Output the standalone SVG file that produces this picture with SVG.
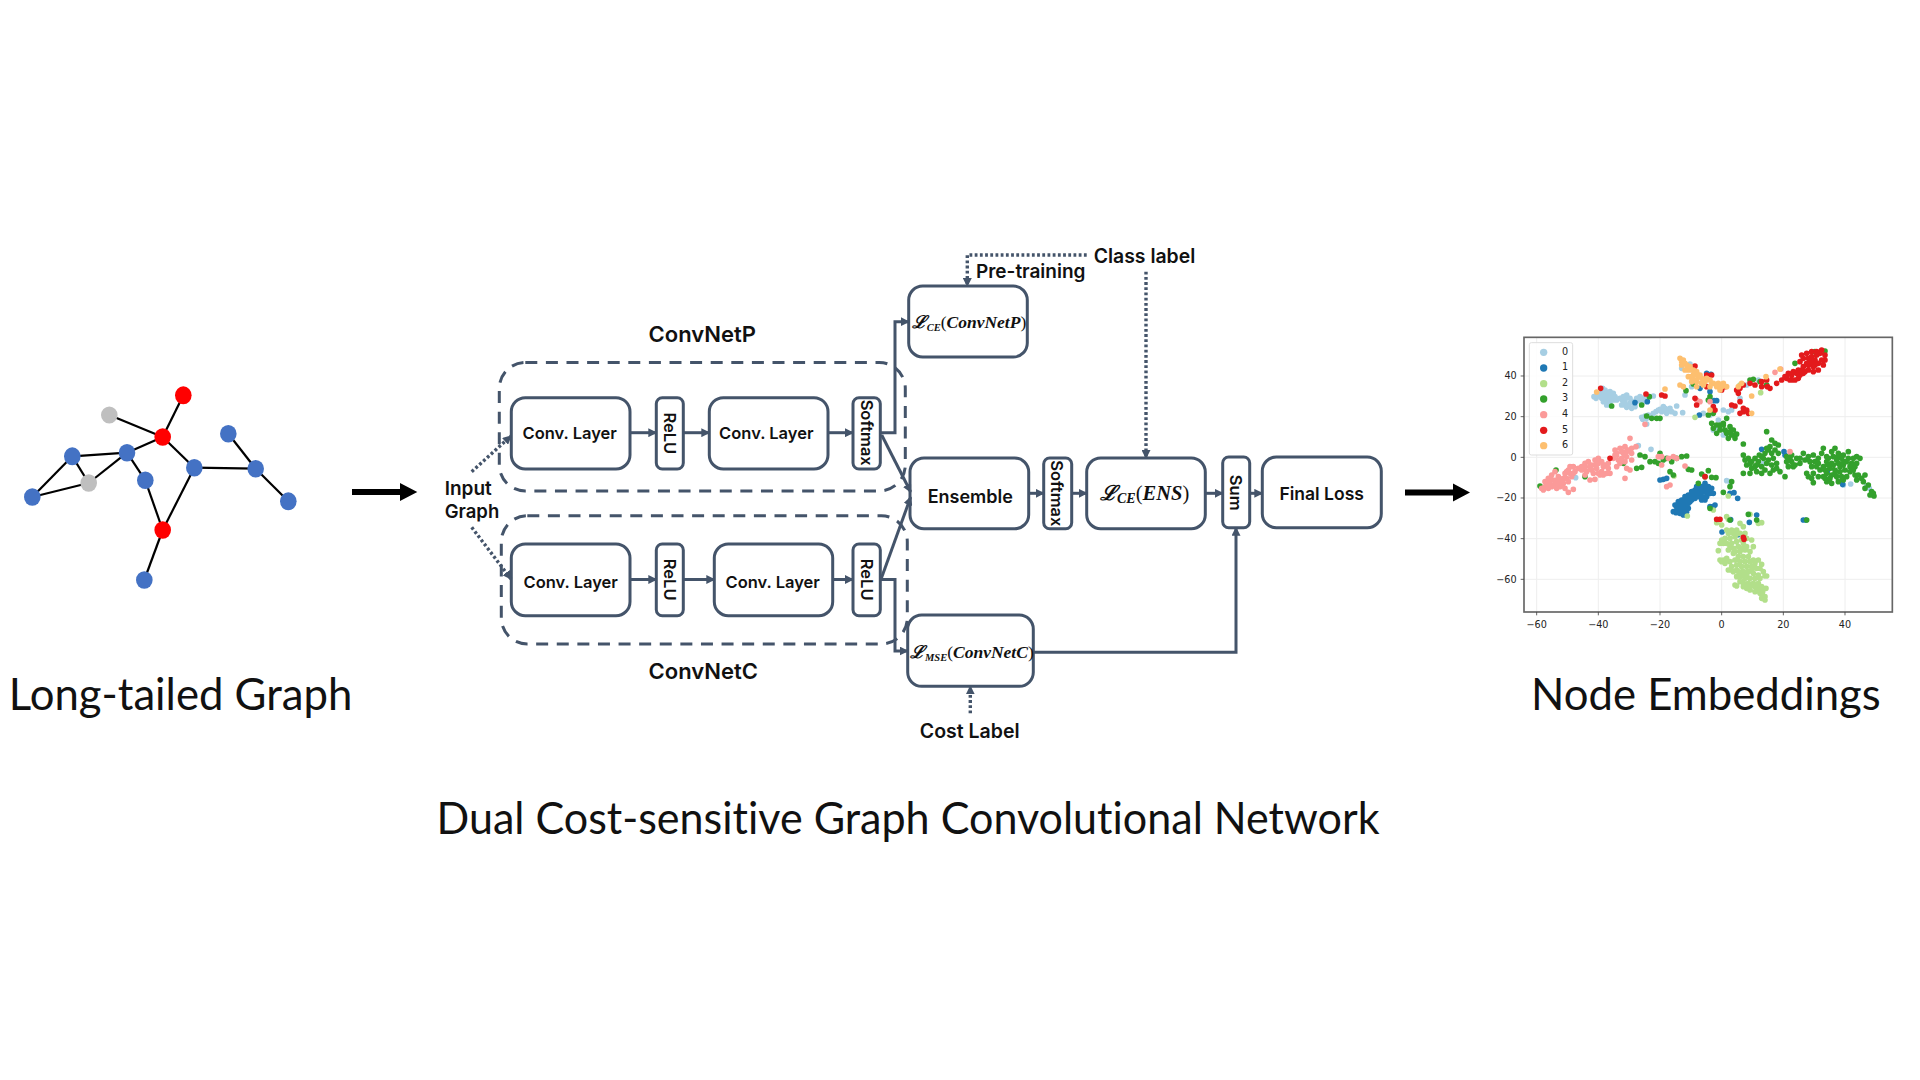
<svg xmlns="http://www.w3.org/2000/svg" width="1920" height="1080" viewBox="0 0 1920 1080">
<defs>
<marker id="a" markerUnits="userSpaceOnUse" markerWidth="9" markerHeight="9" refX="8" refY="4.5" orient="auto"><path d="M0 0L9 4.5L0 9z" fill="#44546a"/></marker>
</defs>
<style>
.big{font:43.700px Lato,"Open Sans",sans-serif;fill:#111;font-variant-ligatures:none}
.lb{font:600 19px Inter,"Liberation Sans",sans-serif;fill:#111;text-anchor:middle}
.sm{font:600 16.500px Inter,"Liberation Sans",sans-serif;fill:#111;text-anchor:middle}
.math{font:italic bold 17.500px "Liberation Serif","DejaVu Serif",serif;fill:#111}
.up{font-style:normal;font-weight:400}
.box rect{fill:#fff;stroke:#44546a;stroke-width:3}
.dash{fill:none;stroke:#44546a;stroke-width:3;stroke-dasharray:12 8.600}
.con path{fill:none;stroke:#44546a;stroke-width:3;marker-end:url(#a)}
.con .dot{stroke-width:3.400;stroke-dasharray:2.800 2.400}
.e line{stroke:#000;stroke-width:2.200}
.b{fill:#4472c4}.r{fill:#f00}.g{fill:#bfbfbf}
.s{fill:none;stroke-width:17;stroke-linecap:round}
.t{font:29px "DejaVu Sans",sans-serif;fill:#222}
</style>
<g id="input-graph">
<g class="e">
<line x1="109.300" y1="415" x2="162.700" y2="437"/><line x1="183.300" y1="395.300" x2="162.700" y2="437"/><line x1="162.700" y1="437" x2="127" y2="452.700"/><line x1="162.700" y1="437" x2="194.300" y2="467.700"/><line x1="72.300" y1="456.300" x2="127" y2="452.700"/><line x1="72.300" y1="456.300" x2="88.700" y2="483"/><line x1="127" y1="452.700" x2="88.700" y2="483"/><line x1="127" y1="452.700" x2="145.300" y2="480.300"/><line x1="145.300" y1="480.300" x2="162.700" y2="530"/><line x1="194.300" y1="467.700" x2="162.700" y2="530"/><line x1="194.300" y1="467.700" x2="255.700" y2="468.700"/><line x1="228.300" y1="433.700" x2="255.700" y2="468.700"/><line x1="255.700" y1="468.700" x2="288.300" y2="501.300"/><line x1="72.300" y1="456.300" x2="32.300" y2="497"/><line x1="32.300" y1="497" x2="88.700" y2="483"/><line x1="162.700" y1="530" x2="144.300" y2="580"/>
</g>
<ellipse class="r" cx="183.300" cy="395.300" rx="8.300" ry="9"/><ellipse class="g" cx="109.300" cy="415" rx="8.300" ry="8.600"/><ellipse class="r" cx="162.700" cy="437" rx="8.300" ry="8.800"/><ellipse class="b" cx="228.300" cy="433.700" rx="8.300" ry="8.800"/><ellipse class="b" cx="72.300" cy="456.300" rx="8.300" ry="9"/><ellipse class="b" cx="127" cy="452.700" rx="8.300" ry="8.800"/><ellipse class="b" cx="194.300" cy="467.700" rx="8.300" ry="8.800"/><ellipse class="b" cx="255.700" cy="468.700" rx="8.300" ry="8.800"/><ellipse class="g" cx="88.700" cy="483" rx="8.300" ry="8.800"/><ellipse class="b" cx="145.300" cy="480.300" rx="8.300" ry="8.800"/><ellipse class="b" cx="32.300" cy="497" rx="8.300" ry="8.800"/><ellipse class="b" cx="288.300" cy="501.300" rx="8.300" ry="9"/><ellipse class="r" cx="162.700" cy="530" rx="8.300" ry="8.800"/><ellipse class="b" cx="144.300" cy="580" rx="8.300" ry="8.800"/>
</g>
<text class="big" x="8.800" y="710">Long-tailed Graph</text>
<path d="M352 489H400V483L417.300 492L400 501V495H352z" fill="#000"/>
<path d="M1405 489.500H1453V483.500L1470 492.500L1453 501.500V495.500H1405z" fill="#000"/>

<g id="convnetp-frame"><rect class="dash" x="499.300" y="362.500" width="406" height="128.500" rx="26"/></g>
<g id="convnetc-frame"><rect class="dash" x="501.300" y="515.700" width="406" height="128.300" rx="26"/></g>
<g class="box">
<g id="p1"><rect x="511.300" y="397.700" width="118.700" height="71.300" rx="14"/></g>
<g id="p2"><rect x="656.300" y="397.700" width="27" height="71.300" rx="6"/></g>
<g id="p3"><rect x="709.300" y="397.700" width="118.700" height="71.300" rx="14"/></g>
<g id="p4"><rect x="853" y="397.700" width="27.300" height="71.300" rx="6"/></g>
<g id="c1"><rect x="511.300" y="544" width="118.700" height="71.700" rx="14"/></g>
<g id="c2"><rect x="656.300" y="544" width="27" height="71.700" rx="6"/></g>
<g id="c3"><rect x="714.300" y="544" width="118.400" height="71.700" rx="14"/></g>
<g id="c4"><rect x="853" y="544" width="27.300" height="71.700" rx="6"/></g>
<g id="lp"><rect x="908.700" y="286" width="118.600" height="71" rx="14"/></g>
<g id="ens"><rect x="910" y="458" width="118.700" height="70.700" rx="14"/></g>
<g id="sf"><rect x="1043.700" y="458" width="28" height="70.700" rx="6"/></g>
<g id="lens"><rect x="1086.700" y="458" width="118.600" height="70.700" rx="14"/></g>
<g id="sum"><rect x="1222.700" y="457" width="27" height="70.700" rx="6"/></g>
<g id="fl"><rect x="1262.300" y="457" width="119" height="70.700" rx="14"/></g>
<g id="lm"><rect x="907.700" y="615" width="125.600" height="71.300" rx="14"/></g>
</g>
<g id="connectors" class="con">
<path d="M630 432.700H656.300"/><path d="M683.300 432.700H709.300"/><path d="M828 432.700H853"/>
<path d="M630 579.500H656.300"/><path d="M683.300 579.500H714.300"/><path d="M832.700 579.500H853"/>
<path d="M880.300 432.700H895V321.700H908.700"/><path d="M881.700 435L910.700 492"/><path d="M881 579.300L910.700 497"/><path d="M880.300 579.500H895V651H907.700"/>
<path d="M1028.700 493.300H1043.700"/><path d="M1071.700 493.300H1086.700"/><path d="M1205.300 493.300H1222.700"/><path d="M1249.700 493.300H1262.300"/>
<path d="M1033.300 652.300H1236V527.700"/>
<path class="dot" d="M1086.700 255H967.300V286"/><path class="dot" d="M1146 271.700V458"/><path class="dot" d="M970.300 713.300V686.300"/>
<path class="dot" d="M471.700 471.700L511 436"/><path class="dot" d="M471.700 527.300L511 579"/>
</g>
<g>
<text class="sm" x="569.700" y="439.300">Conv. Layer</text><text class="sm" x="766.300" y="439.300">Conv. Layer</text>
<text class="sm" x="570.700" y="588">Conv. Layer</text><text class="sm" x="772.700" y="588">Conv. Layer</text>
<text class="sm" transform="translate(663.500,433.300) rotate(90)">ReLU</text>
<text class="sm" transform="translate(860.500,432.700) rotate(90)">Softmax</text>
<text class="sm" transform="translate(663.500,579.700) rotate(90)">ReLU</text>
<text class="sm" transform="translate(860.500,579.700) rotate(90)">ReLU</text>
<text class="sm" transform="translate(1051,493.300) rotate(90)">Softmax</text>
<text class="sm" transform="translate(1229.500,492.700) rotate(90)">Sum</text>
<text class="lb" x="970.300" y="503.300" style="font-size:18px">Ensemble</text>
<text class="lb" x="1321.700" y="500" style="font-size:17.500px">Final Loss</text>
<text class="lb" x="702.300" y="341.700" style="font-size:22px">ConvNetP</text>
<text class="lb" x="703.300" y="679" style="font-size:22px">ConvNetC</text>
<text class="lb" x="1144.500" y="262.700" style="font-size:19.400px">Class label</text>
<text class="lb" x="1030.700" y="278.300">Pre-training</text>
<text class="lb" x="969.700" y="738.300" style="font-size:19.500px">Cost Label</text>
<text class="lb" x="444.700" y="495" style="text-anchor:start">Input</text>
<text class="lb" x="444.700" y="518.300" style="text-anchor:start;font-size:18.500px">Graph</text>
<text class="math" x="911.700" y="327.700">ℒ<tspan dy="3" style="font-size:10.500px">CE</tspan><tspan dy="-3" class="up">(</tspan>ConvNetP<tspan class="up">)</tspan></text>
<text class="math" x="910" y="657.700">ℒ<tspan dy="3" style="font-size:10.500px">MSE</tspan><tspan dy="-3" class="up">(</tspan>ConvNetC<tspan class="up">)</tspan></text>
<text class="math" x="1100" y="500" style="font-size:20.500px">ℒ<tspan dy="3" style="font-size:14px">CE</tspan><tspan dy="-3" class="up">(</tspan>ENS<tspan class="up">)</tspan></text>
</g>
<text class="big" x="1531" y="710">Node Embeddings</text>
<text class="big" x="908" y="834" text-anchor="middle" textLength="943" lengthAdjust="spacingAndGlyphs">Dual Cost-sensitive Graph Convolutional Network</text>

<g id="scatter" transform="translate(1510,330) scale(.33333)">
<rect x="42" y="22" width="1105" height="824" fill="#fff"/>
<path d="M80 22V846M265 22V846M450 22V846M635 22V846M820 22V846M1005 22V846M42 138H1147M42 260H1147M42 382H1147M42 504H1147M42 626H1147M42 748H1147" stroke="#eee" stroke-width="3" fill="none"/>
<path class="s" stroke="#a6cee3" d="M252 200h0M262 195h0M270 185h0M278 175h0M285 180h0M292 190h0M300 185h0M310 190h0M315 200h0M305 205h0M295 205h0M285 200h0M275 205h0M268 198h0M280 215h0M290 225h0M300 215h0M310 210h0M330 205h0M340 200h0M350 195h0M360 205h0M345 215h0M335 225h0M355 225h0M370 215h0M380 205h0M390 200h0M400 205h0M410 210h0M420 200h0M430 198h0M365 235h0M350 232h0M375 230h0M395 262h0M405 258h0M415 255h0M430 250h0M445 240h0M455 245h0M465 235h0M475 240h0M485 245h0M495 250h0M470 250h0M460 230h0M518 248h0M500 228h0M410 282h0M398 268h0M515 115h0M540 102h0M525 195h0M545 170h0M580 250h0M600 255h0M625 270h0M640 240h0M655 245h0M665 240h0M610 300h0M625 295h0M640 315h0M385 347h0M423 358h0M197 443h0M650 452h0M660 455h0M1000 465h0M1022 462h0M1070 468h0M1078 475h0M745 150h0M710 165h0M695 165h0M760 400h0M690 205h0M258 205h0M272 190h0M288 188h0M298 195h0M308 198h0M282 208h0M292 215h0M320 210h0M338 212h0M348 205h0M362 218h0M372 222h0M388 212h0M402 215h0M345 225h0M300 225h0M410 265h0M422 258h0M438 245h0M450 238h0M468 245h0M480 235h0"/>
<path class="s" stroke="#1f78b4" d="M490 545h0M500 540h0M510 550h0M520 555h0M530 545h0M525 530h0M510 530h0M495 525h0M505 515h0M515 510h0M525 500h0M535 495h0M545 485h0M555 490h0M565 480h0M575 470h0M585 460h0M595 470h0M605 475h0M600 490h0M590 500h0M575 510h0M565 500h0M555 505h0M545 510h0M535 520h0M530 510h0M560 470h0M570 490h0M580 485h0M590 480h0M540 505h0M550 495h0M520 520h0M610 530h0M600 530h0M615 525h0M450 450h0M460 448h0M470 445h0M660 490h0M683 505h0M672 488h0M755 358h0M822 365h0M825 375h0M952 424h0M998 463h0M880 570h0M887 570h0M636 606h0M684 614h0M718 577h0M740 555h0M662 569h0M375 218h0M412 215h0M570 175h0M612 212h0M620 212h0M568 255h0M600 185h0M590 130h0M603 133h0M500 530h0M512 540h0M522 545h0M535 535h0M515 520h0M505 530h0M540 515h0M550 505h0M560 495h0M570 480h0M580 475h0M590 490h0M600 480h0M610 490h0M498 548h0M528 555h0M540 495h0M555 480h0M575 500h0M585 510h0"/>
<path class="s" stroke="#b2df8a" d="M620 578h0M635 585h0M650 600h0M665 600h0M680 600h0M690 580h0M700 590h0M690 610h0M675 620h0M660 625h0M645 625h0M635 630h0M650 640h0M665 640h0M680 635h0M695 630h0M710 625h0M725 630h0M700 640h0M685 650h0M670 655h0M655 660h0M690 665h0M705 660h0M720 665h0M715 680h0M700 680h0M685 680h0M670 670h0M650 685h0M635 695h0M645 700h0M660 695h0M675 690h0M690 695h0M705 695h0M720 695h0M730 690h0M755 703h0M740 715h0M725 710h0M710 710h0M695 710h0M680 705h0M665 710h0M655 720h0M670 725h0M685 725h0M700 725h0M715 725h0M730 730h0M745 735h0M765 738h0M750 745h0M735 745h0M720 745h0M705 745h0M690 740h0M680 740h0M700 755h0M715 760h0M730 760h0M745 760h0M755 770h0M768 775h0M745 780h0M735 770h0M720 770h0M700 770h0M680 768h0M750 790h0M760 800h0M765 810h0M755 795h0M630 640h0M625 662h0M650 560h0M655 568h0M745 580h0M755 578h0M720 553h0M610 540h0M655 498h0M532 558h0M492 438h0M752 188h0M555 262h0M690 165h0M655 610h0M670 610h0M680 612h0M705 610h0M640 640h0M660 650h0M675 665h0M695 655h0M710 650h0M730 650h0M745 690h0M735 700h0M750 715h0M760 725h0M770 738h0M725 720h0M710 735h0M695 735h0M680 720h0M660 720h0M640 690h0M630 690h0M690 755h0M705 765h0M720 780h0M735 785h0M745 770h0M758 785h0M765 800h0M755 805h0M675 765h0M710 775h0"/>
<path class="s" stroke="#33a02c" d="M700 375h0M715 385h0M725 395h0M735 385h0M745 395h0M755 380h0M765 370h0M775 360h0M785 370h0M795 360h0M805 370h0M770 305h0M785 330h0M795 340h0M805 345h0M710 405h0M725 415h0M740 405h0M755 410h0M770 400h0M785 405h0M800 400h0M700 430h0M740 425h0M755 430h0M790 420h0M810 425h0M780 430h0M830 380h0M845 375h0M860 385h0M845 395h0M830 395h0M855 405h0M870 400h0M885 390h0M880 370h0M895 380h0M910 375h0M925 385h0M935 370h0M950 380h0M965 365h0M975 355h0M985 370h0M1000 375h0M1015 365h0M1030 385h0M1050 385h0M1040 400h0M1025 400h0M1010 395h0M995 385h0M980 390h0M965 400h0M950 395h0M940 355h0M825 440h0M895 440h0M890 430h0M905 445h0M920 410h0M905 410h0M930 420h0M945 420h0M960 415h0M975 420h0M990 410h0M1005 420h0M1020 425h0M1035 435h0M1010 440h0M995 440h0M980 440h0M965 435h0M950 430h0M940 440h0M950 455h0M965 460h0M985 455h0M1000 450h0M1030 420h0M1065 435h0M1060 455h0M1065 475h0M1085 485h0M1092 498h0M1040 450h0M910 458h0M605 280h0M620 285h0M640 280h0M650 265h0M660 290h0M670 300h0M630 300h0M610 295h0M650 310h0M665 315h0M675 325h0M655 325h0M640 285h0M700 342h0M420 395h0M435 395h0M450 370h0M460 390h0M470 385h0M485 395h0M500 385h0M515 380h0M530 378h0M445 400h0M405 380h0M390 375h0M380 415h0M395 412h0M340 400h0M480 425h0M490 435h0M610 250h0M595 255h0M410 258h0M425 265h0M440 265h0M450 265h0M395 225h0M305 228h0M418 200h0M528 182h0M550 162h0M730 148h0M750 155h0M770 165h0M720 150h0M855 100h0M945 63h0M915 65h0M890 570h0M740 570h0M715 553h0M660 570h0M660 470h0M665 455h0M640 487h0M600 535h0M565 460h0M595 422h0M575 432h0M585 440h0M605 442h0M618 443h0M535 418h0M545 420h0M90 468h0M157 465h0M225 440h0M138 420h0M595 210h0M600 200h0M705 390h0M720 400h0M735 410h0M748 375h0M760 385h0M775 390h0M790 385h0M770 355h0M780 350h0M720 430h0M765 420h0M800 415h0M840 385h0M850 410h0M835 410h0M870 385h0M900 395h0M915 395h0M925 400h0M940 410h0M955 405h0M970 405h0M985 400h0M1000 395h0M1000 405h0M1015 385h0M1020 410h0M1035 410h0M990 425h0M975 430h0M960 445h0M945 445h0M955 385h0M970 380h0M985 380h0M1040 380h0M910 430h0M925 440h0M1045 435h0M1055 445h0M1075 465h0M1090 490h0M1080 495h0M645 300h0M630 285h0M620 310h0M660 305h0M680 312h0"/>
<path class="s" stroke="#fb9a99" d="M95 475h0M105 470h0M115 475h0M125 470h0M135 465h0M145 460h0M105 455h0M115 445h0M125 435h0M135 425h0M145 440h0M155 450h0M130 450h0M120 460h0M140 475h0M160 445h0M170 425h0M180 410h0M190 410h0M195 425h0M185 440h0M170 445h0M165 475h0M175 487h0M190 478h0M215 410h0M225 400h0M235 395h0M245 405h0M255 390h0M265 385h0M275 395h0M285 405h0M295 415h0M290 430h0M275 425h0M260 415h0M245 420h0M230 425h0M215 420h0M240 450h0M255 448h0M225 435h0M270 435h0M310 385h0M320 375h0M315 360h0M330 355h0M345 350h0M355 360h0M340 370h0M325 390h0M335 385h0M350 380h0M365 355h0M378 350h0M360 325h0M350 415h0M345 445h0M360 420h0M365 390h0M320 410h0M445 380h0M475 385h0M470 470h0M480 465h0M490 380h0M500 385h0M525 408h0M455 380h0M570 215h0M560 210h0M455 405h0M405 283h0M840 365h0M795 127h0M812 117h0M600 215h0M110 465h0M125 450h0M140 450h0M150 470h0M165 430h0M175 420h0M180 430h0M190 430h0M175 455h0M160 460h0M205 415h0M225 412h0M240 410h0M255 405h0M265 400h0M280 410h0M295 400h0M250 430h0M265 430h0M280 435h0M300 430h0M320 370h0M335 365h0M350 365h0M365 370h0M315 375h0M345 395h0M330 400h0M100 480h0"/>
<path class="s" stroke="#e31a1c" d="M800 160h0M815 150h0M825 140h0M835 130h0M850 125h0M865 120h0M880 110h0M890 100h0M880 85h0M890 70h0M905 65h0M920 75h0M935 60h0M945 75h0M935 90h0M925 100h0M910 110h0M895 120h0M880 130h0M865 145h0M850 150h0M870 95h0M900 90h0M915 90h0M940 105h0M925 120h0M905 100h0M885 125h0M680 180h0M690 175h0M685 190h0M700 165h0M720 160h0M755 155h0M770 150h0M780 175h0M755 170h0M735 165h0M772 170h0M690 215h0M700 235h0M710 240h0M715 250h0M690 250h0M700 245h0M665 225h0M675 228h0M645 170h0M635 180h0M625 165h0M555 205h0M560 225h0M610 230h0M615 240h0M555 108h0M465 198h0M455 195h0M408 192h0M300 385h0M272 175h0M620 568h0M630 568h0M700 622h0M702 628h0M585 440h0M590 135h0M605 135h0M590 170h0M830 145h0M845 135h0M860 130h0M875 120h0M870 135h0M855 150h0M840 150h0M895 85h0M905 80h0M895 105h0M915 105h0M930 70h0M945 90h0M920 65h0M910 125h0M875 75h0"/>
<path class="s" stroke="#fdbf6f" d="M510 85h0M520 90h0M530 105h0M515 105h0M525 120h0M540 120h0M550 135h0M560 125h0M535 140h0M545 155h0M560 155h0M575 145h0M585 155h0M600 150h0M610 160h0M580 165h0M600 170h0M620 170h0M640 160h0M650 170h0M510 165h0M520 170h0M630 180h0M570 135h0M555 150h0M685 170h0M695 160h0M725 198h0M725 250h0M600 240h0M768 140h0M810 117h0M260 186h0M465 177h0M515 95h0M525 100h0M540 110h0M550 120h0M565 140h0M575 160h0M590 145h0M605 160h0M625 160h0M635 170h0M530 120h0M545 140h0M560 170h0"/>
<rect x="42" y="22" width="1105" height="824" fill="none" stroke="#666" stroke-width="5"/>
<rect x="58" y="38" width="130" height="337" rx="6" fill="#fff" fill-opacity=".85" stroke="#ddd" stroke-width="3"/>
<path class="s" style="stroke-width:22" stroke="#a6cee3" d="M101 67h0"/><path class="s" style="stroke-width:22" stroke="#1f78b4" d="M101 114h0"/><path class="s" style="stroke-width:22" stroke="#b2df8a" d="M101 161h0"/><path class="s" style="stroke-width:22" stroke="#33a02c" d="M101 207h0"/><path class="s" style="stroke-width:22" stroke="#fb9a99" d="M101 254h0"/><path class="s" style="stroke-width:22" stroke="#e31a1c" d="M101 301h0"/><path class="s" style="stroke-width:22" stroke="#fdbf6f" d="M101 347h0"/>
<g class="t" text-anchor="middle"><text x="165" y="74">0</text><text x="165" y="121">1</text><text x="165" y="168">2</text><text x="165" y="214">3</text><text x="165" y="261">4</text><text x="165" y="308">5</text><text x="165" y="354">6</text>
<text x="80" y="893">−60</text><text x="265" y="893">−40</text><text x="450" y="893">−20</text><text x="635" y="893">0</text><text x="820" y="893">20</text><text x="1005" y="893">40</text></g>
<g class="t" text-anchor="end"><text x="20" y="148">40</text><text x="20" y="270">20</text><text x="20" y="392">0</text><text x="20" y="514">−20</text><text x="20" y="636">−40</text><text x="20" y="758">−60</text></g>
<path d="M80 846v10M265 846v10M450 846v10M635 846v10M820 846v10M1005 846v10M42 138h-10M42 260h-10M42 382h-10M42 504h-10M42 626h-10M42 748h-10" stroke="#444" stroke-width="2.500"/>
</g>
</svg>
